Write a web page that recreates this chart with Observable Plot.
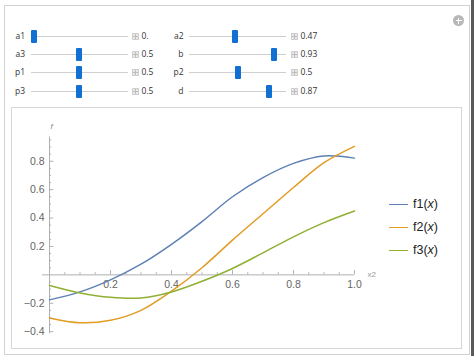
<!DOCTYPE html>
<html><head><meta charset="utf-8">
<script src="https://cdn.jsdelivr.net/npm/d3@7"></script>
<script src="https://cdn.jsdelivr.net/npm/@observablehq/plot@0.6"></script>
<style>
html,body{margin:0;padding:0;background:#fff;width:474px;height:358px;overflow:hidden;}
#root{position:relative;width:474px;height:358px;font-family:"Open Sans",sans-serif;}
.abs{position:absolute;}
.lbl{position:absolute;font-size:8.5px;color:#333;text-align:right;width:20px;line-height:10px;}
.track{position:absolute;height:1px;background:#cfcfcf;}
.thumb{position:absolute;width:6px;height:13px;background:#1270d3;border-radius:1px;}
.pbox{position:absolute;width:5px;height:5px;border:1px solid #cfcfcf;background:#e9e9e9;}
.pbox::before{content:"";position:absolute;left:2px;top:0;width:1px;height:5px;background:#bdbdbd;}
.pbox::after{content:"";position:absolute;left:0;top:2px;width:5px;height:1px;background:#bdbdbd;}
.val{position:absolute;font-size:8.5px;color:#333;line-height:10px;}
.leg{position:absolute;font-family:"Liberation Sans",Arial,sans-serif;font-size:12.5px;color:#222;line-height:14px;}
.legline{position:absolute;height:1.5px;width:19px;}
</style></head>
<body><div id="root"></div>
<script>
// ---- data ----
const xs = [0, 0.1, 0.2, 0.3, 0.4, 0.5, 0.6, 0.7, 0.8, 0.9, 1.0];
const f1 = [-0.176, -0.12, -0.035, 0.075, 0.215, 0.375, 0.55, 0.685, 0.785, 0.837, 0.822];
const f2 = [-0.303, -0.337, -0.32, -0.25, -0.115, 0.05, 0.245, 0.43, 0.615, 0.79, 0.905];
const f3 = [-0.075, -0.127, -0.158, -0.163, -0.12, -0.045, 0.045, 0.155, 0.268, 0.368, 0.45];
const seriesNames = ["f1", "f2", "f3"];
const seriesColors = ["#5E81B5", "#E19C24", "#8FB032"];
const xTickLabels = [0.2, 0.4, 0.6, 0.8, 1.0];
const yTickLabels = [-0.4, -0.2, 0.2, 0.4, 0.6, 0.8];
const leftSliderNames = ["a1", "a3", "p1", "p3"];
const leftSliderValues = [0, 0.5, 0.5, 0.5];
const leftSliderText = ["0.", "0.5", "0.5", "0.5"];
const rightSliderNames = ["a2", "b", "p2", "d"];
const rightSliderValues = [0.47, 0.93, 0.5, 0.87];
const rightSliderText = ["0.47", "0.93", "0.5", "0.87"];

const root = document.getElementById("root");
function el(cls, style, text){const d=document.createElement("div");d.className=cls;Object.assign(d.style,style);if(text!=null)d.textContent=text;root.appendChild(d);return d;}

// outer panel
el("abs",{left:"4px",top:"5px",width:"466px",height:"350px",border:"1px solid #d2d2d2",boxSizing:"border-box"});
el("abs",{left:"471px",top:"0px",width:"3px",height:"356px",background:"#5a5a5a"});
// circled plus icon
el("abs",{left:"453px",top:"15px",width:"11px",height:"11px",borderRadius:"50%",background:"#b8b8b8"});
el("abs",{left:"455.5px",top:"19.8px",width:"6px",height:"1.5px",background:"#fff"});
el("abs",{left:"457.8px",top:"17.5px",width:"1.5px",height:"6px",background:"#fff"});

// sliders
const rowY = [36, 54.3, 72.7, 91.3];
const leftPos = d3.scaleLinear().domain([0,1]).range([33.5, 123.9]);
const rightPos = d3.scaleLinear().domain([0,1]).range([196, 280]);
function slider(name, v, txt, y, col){
  const L = col===0;
  el("lbl",{left:(L?5:163.5)+"px",top:(y-5.5)+"px"},name);
  el("track",{left:(L?31:189)+"px",top:(y-0.5)+"px",width:"97px"});
  const cx = (L?leftPos:rightPos)(v);
  el("thumb",{left:(cx-3)+"px",top:(y-6.5)+"px"});
  el("pbox",{left:(L?131.5:290.5)+"px",top:(y-3.5)+"px"});
  el("val",{left:(L?141.5:300.5)+"px",top:(y-5.5)+"px"},txt);
}
leftSliderNames.forEach((n,i)=>slider(n,leftSliderValues[i],leftSliderText[i],rowY[i],0));
rightSliderNames.forEach((n,i)=>slider(n,rightSliderValues[i],rightSliderText[i],rowY[i],1));

// inner plot box
el("abs",{left:"11px",top:"107px",width:"451px",height:"242px",border:"1px solid #d6d6d6",boxSizing:"border-box"});

// chart data table
const rows = [];
[f1,f2,f3].forEach((arr,k)=>arr.forEach((v,i)=>rows.push({x:xs[i],y:v,s:seriesNames[k]})));
const minorX = d3.range(1,21).map(i=>i*0.05).filter(v=>Math.abs(v*5-Math.round(v*5))>1e-6);
const minorY = d3.range(-8,20).map(i=>i*0.05).filter(v=>Math.abs(v*5-Math.round(v*5))>1e-6 && Math.abs(v)>1e-6);
const fmt = v => (v<0?"\u2212":"") + Math.abs(v).toFixed(1);

const chart = Plot.plot({
  width: 450, height: 241,
  marginLeft: 38, marginRight: 107, marginTop: 29.6, marginBottom: 14.7,
  x: {domain: [0, 1], axis: null},
  y: {domain: [-0.415, 0.97], axis: null},
  color: {domain: seriesNames, range: seriesColors},
  style: {background: "transparent", fontFamily: "'Liberation Sans', Arial, sans-serif", overflow: "visible"},
  marks: [
    Plot.ruleY([0], {x1: -0.023, x2: 1.0, stroke: "#b0b0b0", strokeWidth: 1}),
    Plot.ruleX([0], {y1: -0.415, y2: 0.97, stroke: "#b0b0b0", strokeWidth: 1}),
    Plot.ruleX(minorX, {x: d=>d, y1: 0, y2: 0.015, stroke: "#b0b0b0"}),
    Plot.ruleX(xTickLabels, {x: d=>d, y1: 0, y2: 0.03, stroke: "#b0b0b0"}),
    Plot.ruleY(minorY, {y: d=>d, x1: 0, x2: 0.007, stroke: "#b0b0b0"}),
    Plot.ruleY(yTickLabels, {y: d=>d, x1: 0, x2: 0.014, stroke: "#b0b0b0"}),
    Plot.text(xTickLabels, {x: d=>d, y: 0, dy: 10, text: fmt, fill: "#666", fontSize: 10.5, textAnchor: "middle", lineAnchor: "middle"}),
    Plot.text(yTickLabels, {x: 0, y: d=>d, dx: -5, text: fmt, fill: "#666", fontSize: 10.5, textAnchor: "end", lineAnchor: "middle"}),
    Plot.text(["f"], {x: 0, y: 0.97, dx: 2, dy: -11, text: d=>d, fill: "#888", fontSize: 8, fontStyle: "italic"}),
    Plot.text(["x2"], {x: 1, y: 0, dx: 13, text: d=>d, fill: "#999", fontSize: 8, textAnchor: "start", lineAnchor: "middle"}),
    Plot.line(rows, {x: "x", y: "y", z: "s", stroke: "s", strokeWidth: 1.5, curve: "catmull-rom"})
  ]
});
chart.style.position = "absolute";
chart.style.left = "11px";
chart.style.top = "107px";
root.appendChild(chart);

// legend
const legY = [204.7, 227.5, 250.3];
seriesNames.forEach((n,i)=>{
  el("legline",{left:"389px",top:(legY[i]-0.75)+"px",background:seriesColors[i]});
  const t = el("leg",{left:"413px",top:(legY[i]-7.5)+"px"});
  t.innerHTML = n + "(<i>x</i>)";
});
</script>
</body></html>
